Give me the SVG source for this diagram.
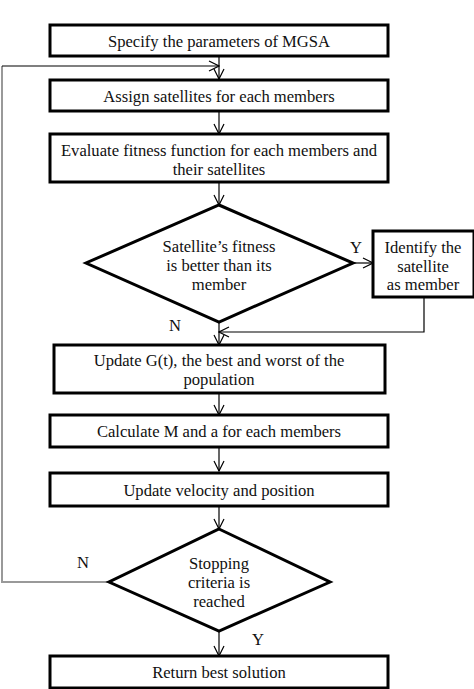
<svg xmlns="http://www.w3.org/2000/svg" width="474" height="689" viewBox="0 0 474 689">
<style>
.box{fill:#fff;stroke:#000;stroke-width:3}
.t{font-family:"Liberation Serif","Times New Roman",serif;font-size:16.6px;fill:#111;text-anchor:middle;dominant-baseline:central}
.c{fill:none;stroke:#000;stroke-width:1.2}
.g{fill:none;stroke:#999;stroke-width:2}
</style>
<defs>
<marker id="ah" viewBox="0 0 12 12" refX="11" refY="6" markerWidth="12" markerHeight="12" markerUnits="userSpaceOnUse" orient="auto">
<path d="M1,1 L11,6 L1,11" fill="none" stroke="#000" stroke-width="1.2"/>
</marker>
</defs>
<rect width="474" height="689" fill="#fff"/>
<g id="connectors">
<line class="c" x1="219" y1="56" x2="219" y2="79" marker-end="url(#ah)"/>
<polyline class="g" points="109,582 2,582 2,66"/>
<line class="c" x1="2" y1="66" x2="219" y2="66" marker-end="url(#ah)"/>
<line class="c" x1="219" y1="111" x2="219" y2="134" marker-end="url(#ah)"/>
<line class="c" x1="219" y1="182" x2="219" y2="205" marker-end="url(#ah)"/>
<line class="c" x1="353" y1="263" x2="373" y2="263" marker-end="url(#ah)"/>
<polyline class="c" points="424,297 424,332 219,332" marker-end="url(#ah)"/>
<line class="c" x1="219" y1="322" x2="219" y2="345" marker-end="url(#ah)"/>
<line class="c" x1="219" y1="393" x2="219" y2="415" marker-end="url(#ah)"/>
<line class="c" x1="219" y1="447" x2="219" y2="471" marker-end="url(#ah)"/>
<line class="c" x1="219" y1="506" x2="219" y2="529" marker-end="url(#ah)"/>
<line class="c" x1="219" y1="631" x2="219" y2="656" marker-end="url(#ah)"/>
<text class="t" x="356" y="247">Y</text>
<text class="t" x="175" y="325">N</text>
<text class="t" x="83" y="562">N</text>
<text class="t" x="258" y="639">Y</text>
</g>
<g id="n1"><rect class="box" x="50" y="25" width="338" height="31"/><text class="t" x="219" y="41">Specify the parameters of MGSA</text></g>
<g id="n2"><rect class="box" x="50" y="80" width="338" height="31"/><text class="t" x="219" y="96">Assign satellites for each members</text></g>
<g id="n3"><rect class="box" x="50" y="134" width="338" height="48"/><text class="t" x="219" y="150">Evaluate fitness function for each members and</text><text class="t" x="219" y="169">their satellites</text></g>
<g id="n4"><polygon class="box" points="219,205 353,263 219,322 86,263"/><text class="t" x="219" y="246">Satellite’s fitness</text><text class="t" x="219" y="265">is better than its</text><text class="t" x="219" y="284">member</text></g>
<g id="n5"><rect class="box" x="373" y="231" width="101" height="66"/><text class="t" x="423" y="247">Identify the</text><text class="t" x="423" y="266">satellite</text><text class="t" x="423" y="284">as member</text></g>
<g id="n6"><rect class="box" x="54" y="345" width="331" height="48"/><text class="t" x="219" y="360">Update G(t), the best and worst of the</text><text class="t" x="219" y="379">population</text></g>
<g id="n7"><rect class="box" x="50" y="415" width="338" height="32"/><text class="t" x="219" y="431">Calculate M and a for each members</text></g>
<g id="n8"><rect class="box" x="50" y="473" width="338" height="33"/><text class="t" x="219" y="490">Update velocity and position</text></g>
<g id="n9"><polygon class="box" points="219,529 330,582 219,631 109,582"/><text class="t" x="219" y="563">Stopping</text><text class="t" x="219" y="582">criteria is</text><text class="t" x="219" y="601">reached</text></g>
<g id="n10"><rect class="box" x="50" y="656" width="338" height="32"/><text class="t" x="219" y="672">Return best solution</text></g>
</svg>
